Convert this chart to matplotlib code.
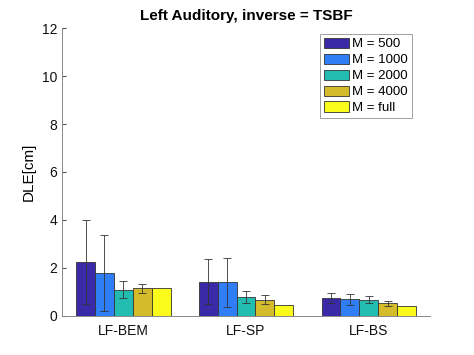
import matplotlib
matplotlib.use("Agg")
import matplotlib.pyplot as plt
import numpy as np

plt.rcParams['font.family'] = ['Liberation Sans', 'DejaVu Sans']

categories = ["LF-BEM", "LF-SP", "LF-BS"]
series_labels = ["M = 500", "M = 1000", "M = 2000", "M = 4000", "M = full"]
means = [
    [2.27, 1.43, 0.74],   # M=500
    [1.78, 1.41, 0.70],   # M=1000
    [1.09, 0.79, 0.68],   # M=2000
    [1.15, 0.68, 0.53],   # M=4000
    [1.15, 0.45, 0.40],   # M=full
]
errs = [
    [1.75, 0.93, 0.20],
    [1.58, 1.02, 0.23],
    [0.35, 0.25, 0.15],
    [0.20, 0.18, 0.10],
    [0.0, 0.0, 0.0],
]
colors = ["#3b2aa8", "#2f7ef6", "#22bdb0", "#d3bb2c", "#fafb1a"]
yticks = [0, 2, 4, 6, 8, 10, 12]

fig = plt.figure(figsize=(4.74, 3.55), dpi=100)
ax = fig.add_axes([0.1308, 0.1099, 0.7764, 0.8112])

x = np.arange(1, len(categories) + 1)
n = len(series_labels)
group_w = 0.769
bw = group_w / n
for i in range(n):
    xi = x - group_w / 2 + bw * (i + 0.5)
    ax.bar(xi, means[i], width=bw, color=colors[i], edgecolor="#333333",
           linewidth=0.6, label=series_labels[i], zorder=2)
    e = np.array(errs[i])
    if np.any(e > 0):
        ax.errorbar(xi, means[i], yerr=e, fmt="none", ecolor="#333333",
                    elinewidth=0.6, capsize=3, capthick=0.6, zorder=3)

ax.set_xlim(0.5, 3.5)
ax.set_ylim(0, 12)
ax.set_yticks(yticks)
ax.set_xticks(x)
ax.set_xticklabels(categories)
ax.tick_params(axis="both", direction="in", length=3, labelsize=10,
               color="#555555", labelcolor="#111111")
ax.tick_params(axis="x", length=0, pad=6)
for s in ["top", "right"]:
    ax.spines[s].set_visible(False)
for s in ["left", "bottom"]:
    ax.spines[s].set_color("#888888")
    ax.spines[s].set_linewidth(0.7)
ax.set_ylabel("DLE[cm]", fontsize=11)
ax.set_title("Left Auditory, inverse = TSBF", fontsize=11, fontweight="bold", pad=6)

leg = ax.legend(loc="upper right", bbox_to_anchor=(0.95, 0.98), fontsize=9.5,
                frameon=True, fancybox=False, edgecolor="#888888",
                handlelength=1.9, handleheight=0.8, handletextpad=0.2,
                labelspacing=0.25, borderpad=0.3, borderaxespad=0.0)
leg.get_frame().set_linewidth(0.7)

fig.savefig("out.png", dpi=100)
